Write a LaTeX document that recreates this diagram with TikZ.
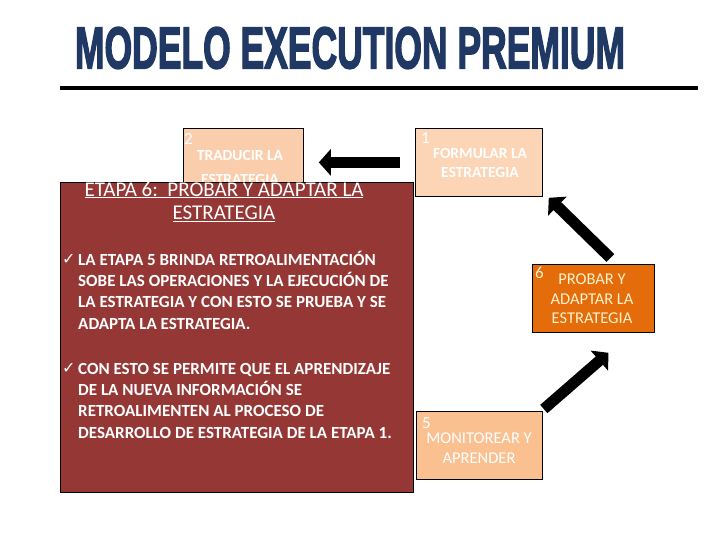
\documentclass[tikz,border=0pt]{standalone}
\usepackage{fontspec}
\setmainfont{Carlito}
\newfontfamily\titlefont[FakeBold=3]{Liberation Sans}
\newfontfamily\symfont{DejaVu Sans}
\usetikzlibrary{arrows.meta}
\definecolor{titleblue}{RGB}{31,56,100}
\definecolor{peachA}{RGB}{250,205,172}
\definecolor{peachB}{RGB}{251,213,181}
\definecolor{peachC}{RGB}{250,192,144}
\definecolor{orangeD}{RGB}{228,108,10}
\definecolor{darkred}{RGB}{149,55,53}
\definecolor{cream}{RGB}{255,242,204}
\tikzset{
  stage/.style={draw=black, line width=0.8pt, inner sep=0pt, anchor=north west},
  stagetext/.style={align=center, font=\fontsize{16.5}{19.5}\selectfont, inner sep=0pt},
  digit/.style={font=\fontsize{17}{17}\selectfont, inner sep=0pt, anchor=north west},
  bigarrow/.style={line width=11pt, -{Triangle[length=12pt,width=26pt]}},
  redtext/.style={text=white, inner sep=0pt, font=\bfseries\fontsize{17}{21.3}\selectfont, align=left, anchor=base west},
  check/.style={text=white, inner sep=0pt, anchor=base west, font=\symfont\bfseries\fontsize{16}{16}\selectfont},
}
\begin{document}
\begin{tikzpicture}[x=1pt,y=-1pt]
\useasboundingbox[fill=white] (0,0) rectangle (720,540);
% title
\node[inner sep=0pt, text=titleblue] (title) at (350,48)
  {\resizebox{550pt}{41pt}{\titlefont\bfseries MODELO EXECUTION PREMIUM}};
\draw[line width=4pt] (60,88) coordinate (rl) -- (698,88) coordinate (rr);
% box 2 (behind red panel)
\node[stage, fill=peachA, minimum width=120pt, minimum height=68pt] (b2) at (183,128) {};
\node[digit, text=white] (d2) at (184,133) {2};
\node[stagetext, text=white, font=\bfseries\fontsize{15.5}{24}\selectfont] (t2) at (240,167) {TRADUCIR LA\\ESTRATEGIA};
% box 1
\node[stage, fill=peachB, minimum width=127pt, minimum height=68pt] (b1) at (415,128) {};
\node[digit, text=white] (d1) at (421,132) {1};
\node[stagetext, text=white, font=\bfseries\fontsize{15.5}{19.5}\selectfont] (t1) at (480,163) {FORMULAR LA\\ESTRATEGIA};
% box 6
\node[stage, fill=orangeD, minimum width=122pt, minimum height=68pt] (b6) at (532,264) {};
\node[digit, text=cream] (d6) at (535,267) {6};
\node[stagetext, text=cream] (t6) at (592,299) {PROBAR Y\\ADAPTAR LA\\ESTRATEGIA};
% box 5
\node[stage, fill=peachC, minimum width=126pt, minimum height=68pt] (b5) at (416,411) {};
\node[digit, text=white] (d5) at (422,417) {5};
\node[stagetext, text=white] (t5) at (479,448) {MONITOREAR Y\\APRENDER};
% arrows
\draw[bigarrow] ([xshift=-15pt]b1.west) -- ([xshift=15pt]b1.west -| b2.east);
\draw[bigarrow] ([shift={(17,-6)}]b6.north) -- ([shift={(6,1)}]b1.south east);
\draw[bigarrow] ([shift={(1,-2)}]b5.north east) -- ([shift={(15,20)}]b6.south);
% red panel
\node[stage, fill=darkred, minimum width=353pt, minimum height=310pt] (panel) at (60,182) {};
\node[text=white, inner sep=0pt, align=center, font=\fontsize{21}{24}\selectfont, anchor=base] (ptitle) at (224,220)
  {\underline{ETAPA 6:\ \ PROBAR Y ADAPTAR LA}\\\underline{ESTRATEGIA}};
\node[check] (ck1) at (62,264) {✓};
\node[redtext] (bl1) at (78,329)
  {LA ETAPA 5 BRINDA RETROALIMENTACIÓN\\SOBE LAS OPERACIONES Y LA EJECUCIÓN DE\\LA ESTRATEGIA Y CON ESTO SE PRUEBA Y SE\\ADAPTA LA ESTRATEGIA.};
\node[check] (ck2) at (62,373) {✓};
\node[redtext] (bl2) at (78,438)
  {CON ESTO SE PERMITE QUE EL APRENDIZAJE\\DE LA NUEVA INFORMACIÓN SE\\RETROALIMENTEN AL PROCESO DE\\DESARROLLO DE ESTRATEGIA DE LA ETAPA 1.};
\end{tikzpicture}
\end{document}
